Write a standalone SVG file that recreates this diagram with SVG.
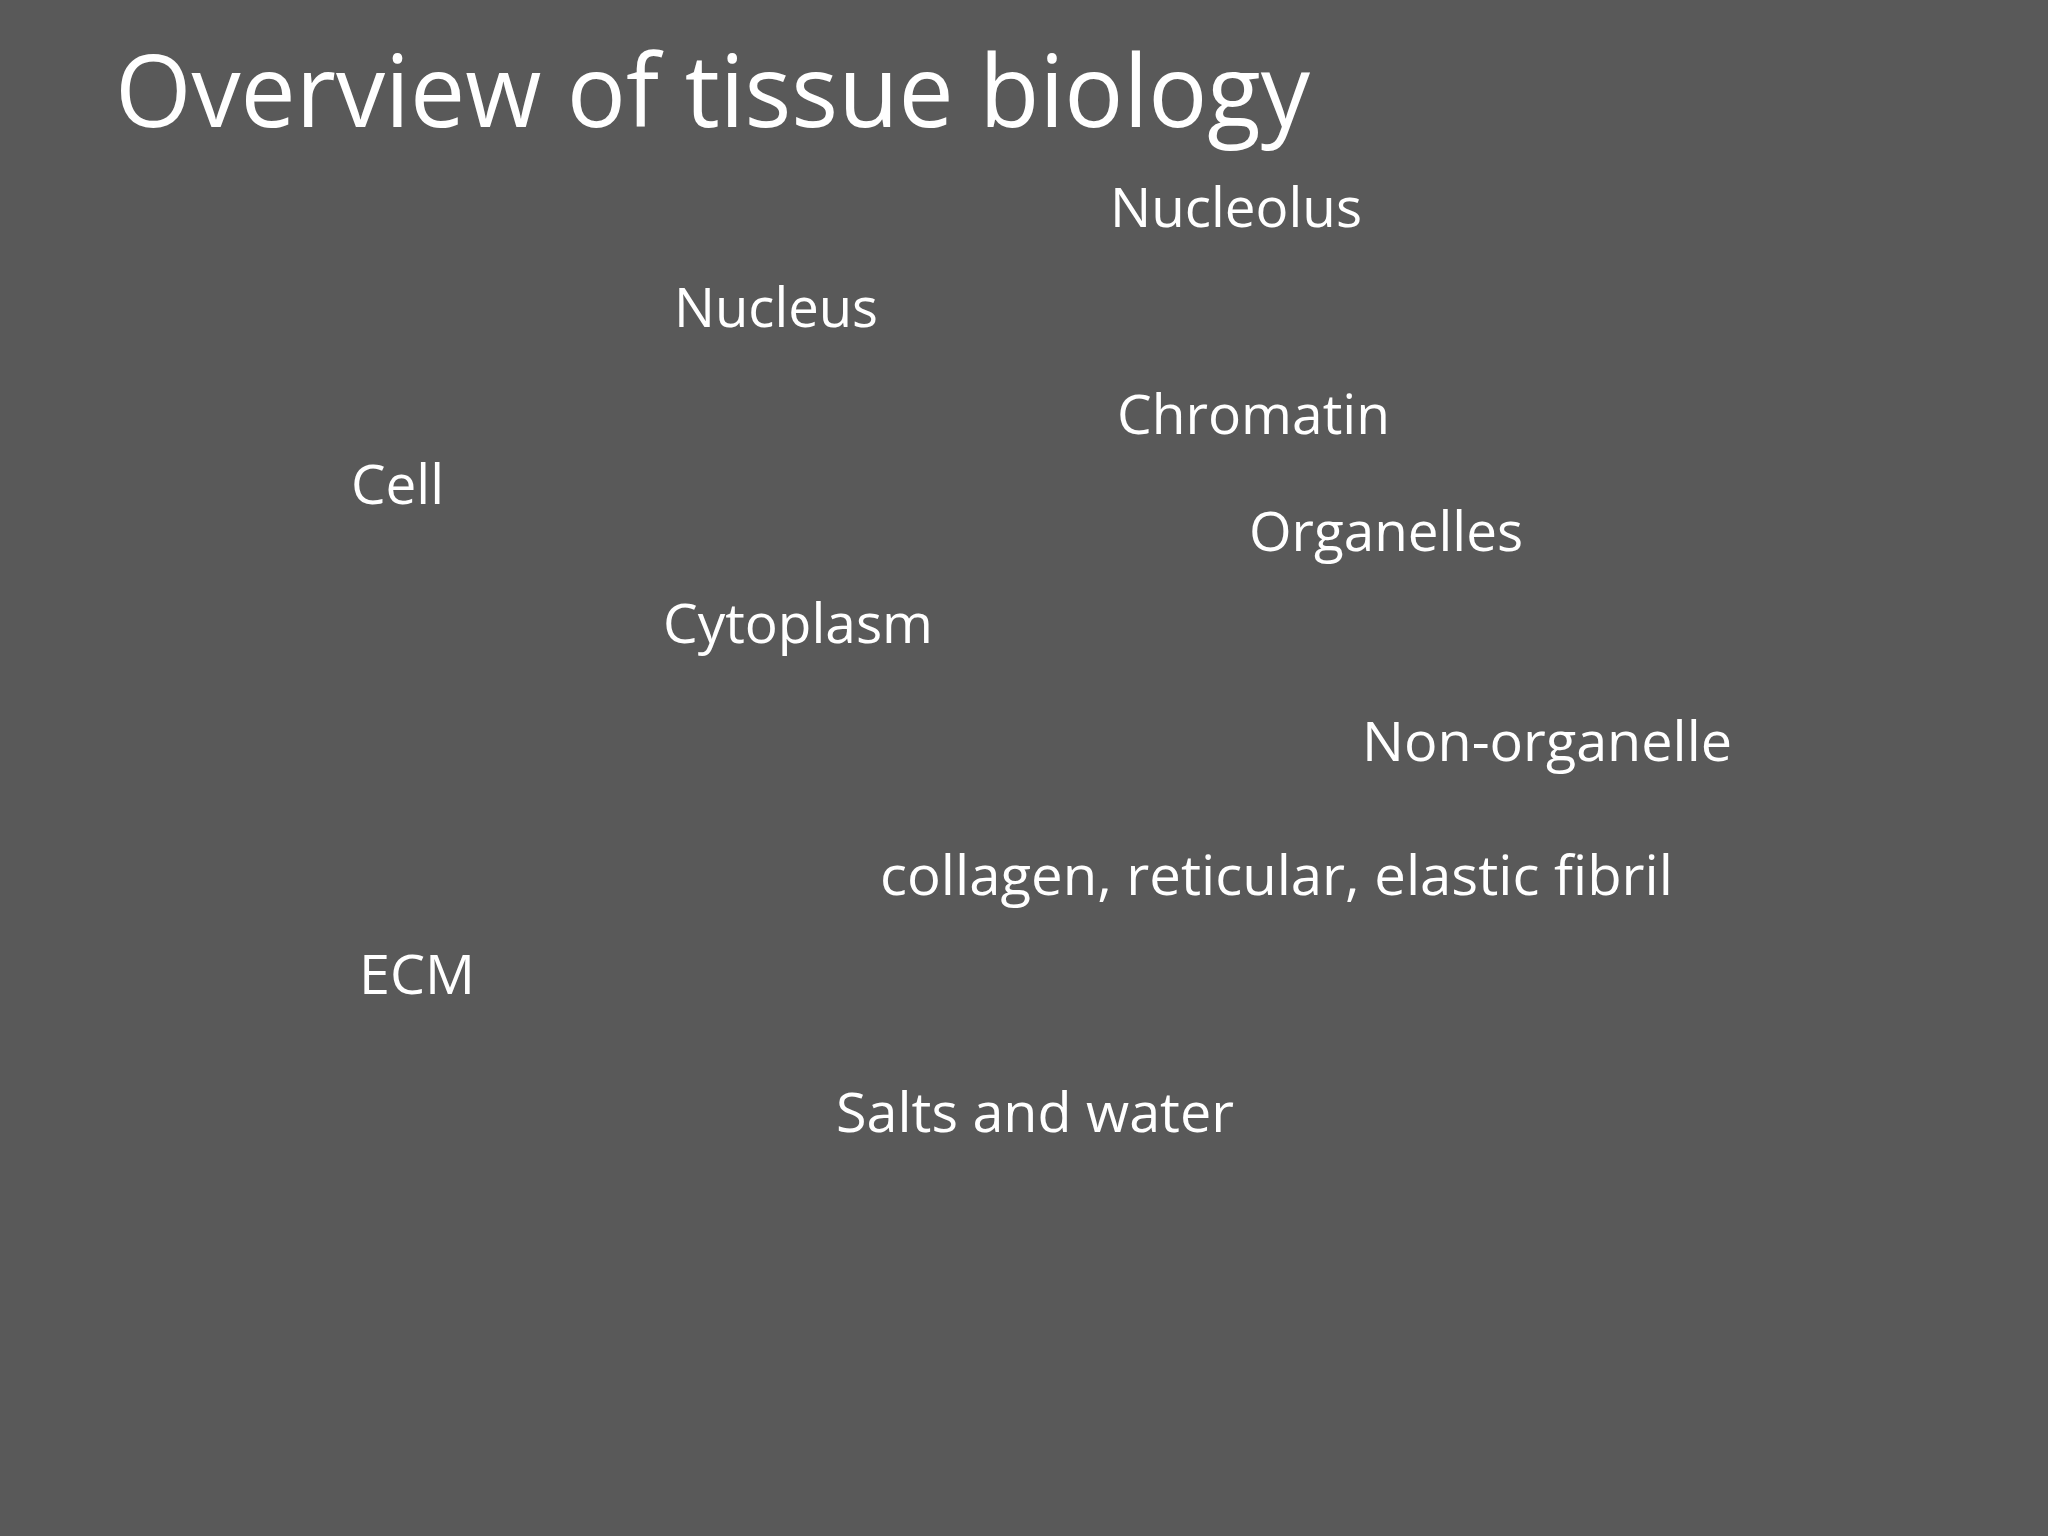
<svg xmlns="http://www.w3.org/2000/svg" width="2048" height="1536" viewBox="0 0 2048 1536">
<style>
text{fill:#fff;font-family:"Open Sans","Liberation Sans",sans-serif}
.t{font-size:100px}
.l{font-size:54px}
</style>
<rect width="2048" height="1536" fill="#595959"/>
<text class="t" x="115" y="127" textLength="1195" lengthAdjust="spacingAndGlyphs">Overview of tissue biology</text>
<g id="nucleolus"><text class="l" x="1110" y="227" textLength="252" lengthAdjust="spacingAndGlyphs">Nucleolus</text></g>
<g id="nucleus"><text class="l" x="674" y="327" textLength="204" lengthAdjust="spacingAndGlyphs">Nucleus</text></g>
<g id="chromatin"><text class="l" x="1117" y="434" textLength="273" lengthAdjust="spacingAndGlyphs">Chromatin</text></g>
<g id="cell"><text class="l" x="351" y="504" textLength="93" lengthAdjust="spacingAndGlyphs">Cell</text></g>
<g id="organelles"><text class="l" x="1249" y="551" textLength="274" lengthAdjust="spacingAndGlyphs">Organelles</text></g>
<g id="cytoplasm"><text class="l" x="663" y="643" textLength="270" lengthAdjust="spacingAndGlyphs">Cytoplasm</text></g>
<g id="nonorganelle"><text class="l" x="1362" y="761" textLength="370" lengthAdjust="spacingAndGlyphs">Non-organelle</text></g>
<g id="fibril"><text class="l" x="880" y="895" textLength="793" lengthAdjust="spacingAndGlyphs">collagen, reticular, elastic fibril</text></g>
<g id="ecm"><text class="l" x="359" y="994" textLength="116" lengthAdjust="spacingAndGlyphs">ECM</text></g>
<g id="salts"><text class="l" x="836" y="1132" textLength="398" lengthAdjust="spacingAndGlyphs">Salts and water</text></g>
<g id="connectors"></g>
</svg>
